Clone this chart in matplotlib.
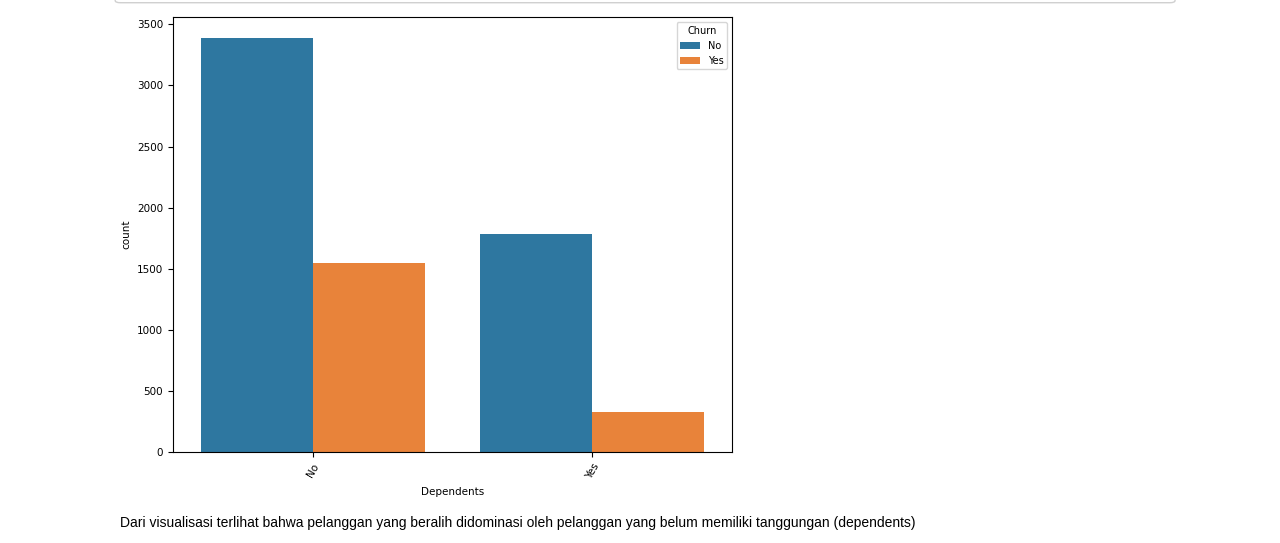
import numpy as np
from matplotlib import pyplot as plt
from matplotlib.patches import FancyBboxPatch

# data
dependents = ["No", "Yes"]
churn_levels = ["No", "Yes"]
count_churn_no = [3390, 1784]
count_churn_yes = [1543, 326]

colors = ["#2e77a0", "#e8833a"]

fig = plt.figure(figsize=(12.8, 5.43), dpi=100)

# notebook cell border at the top
fig.patches.append(FancyBboxPatch((0.09, 0.995), 0.828, 0.05, boxstyle="round,pad=0,rounding_size=0.004",
                                  transform=fig.transFigure, fc="white", ec="#d0d0d0", lw=1))

ax = fig.add_axes([0.135, 0.1676, 0.437, 0.801])
x = np.arange(len(dependents))
w = 0.4
ax.bar(x - w / 2, count_churn_no, w, color=colors[0], label=churn_levels[0])
ax.bar(x + w / 2, count_churn_yes, w, color=colors[1], label=churn_levels[1])
ax.set_xlim(-0.5, 1.5)
ax.set_ylim(0, 3560)
ax.set_yticks(range(0, 3501, 500))
ax.set_xticks(x)
ax.set_xticklabels(dependents, rotation=60)
ax.tick_params(labelsize=7.5)
ax.set_xlabel("Dependents", fontsize=7.5)
ax.set_ylabel("count", fontsize=7.5)
ax.legend(title="Churn", fontsize=7, title_fontsize=7, loc="upper right")

fig.text(120 / 1280, 1 - 523 / 543, "Dari visualisasi terlihat bahwa pelanggan yang beralih didominasi oleh pelanggan yang belum memiliki tanggungan (dependents)",
         fontsize=10, va="center", family="Liberation Sans")

fig.savefig("out.png", dpi=100)
